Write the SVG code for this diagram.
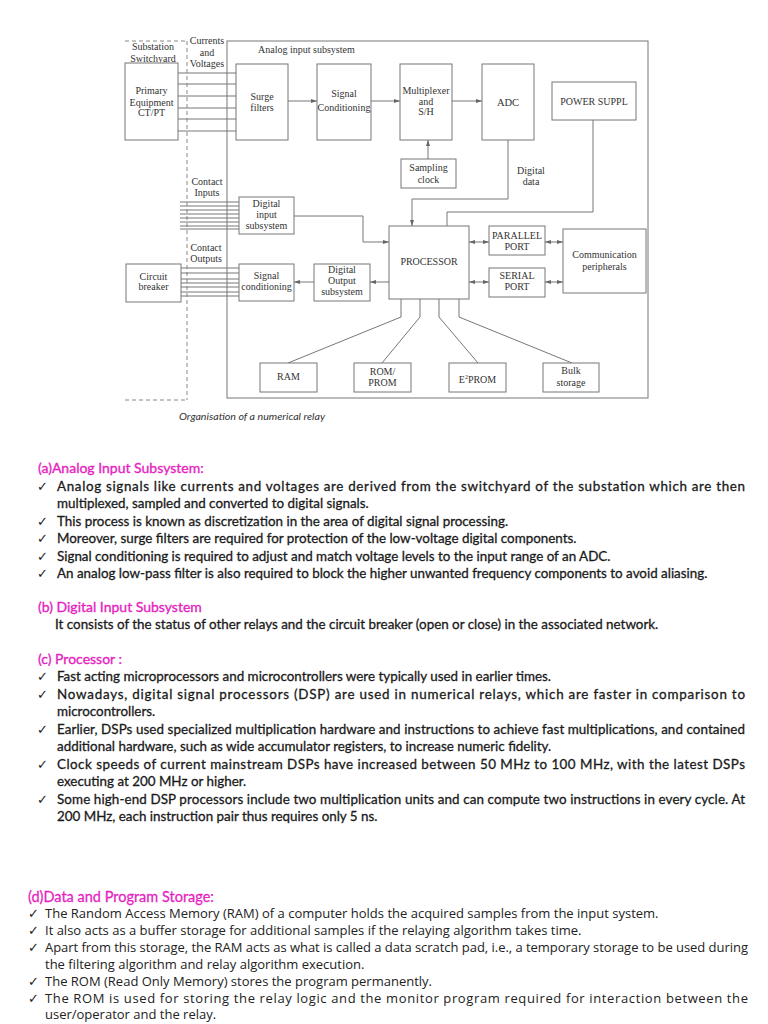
<svg xmlns="http://www.w3.org/2000/svg" width="768" height="1024" viewBox="0 0 768 1024">
<defs>
<marker id="ah" viewBox="0 0 6 6" refX="6" refY="3" markerWidth="6" markerHeight="6" orient="auto-start-reverse" markerUnits="userSpaceOnUse">
<path d="M0,1 L6,3 L0,5 z" fill="#666"/>
</marker>
<style>
.bx{fill:#fff;stroke:#777;stroke-width:1}
.ln{fill:none;stroke:#777;stroke-width:1}
.ds{fill:none;stroke:#888;stroke-width:1;stroke-dasharray:4,3}
.dt{font-family:"Liberation Serif",serif;font-size:10px;fill:#333;text-anchor:middle}
.dl{font-family:"Liberation Serif",serif;font-size:10px;fill:#333}
.cap{font-family:Lato,"Open Sans",sans-serif;font-style:italic;font-size:10px;fill:#333}
.hd{font-family:Lato,"Open Sans",sans-serif;font-size:14px;fill:#e61fc1;stroke:#e61fc1;stroke-width:0.35}
.bt{font-family:Lato,"Open Sans",sans-serif;font-size:13.4px;fill:#1a1a1a;stroke:#1a1a1a;stroke-width:0.3}
.ck{font-family:"DejaVu Sans",sans-serif;font-size:13px;fill:#222}
.hd2{font-family:Lato,"Open Sans",sans-serif;font-size:16px;fill:#e61fc1;stroke:#e61fc1;stroke-width:0.3}
.bt2{font-family:"Open Sans",Lato,sans-serif;font-size:13px;fill:#222}
</style>
</defs>
<rect width="768" height="1024" fill="#fff"/>

<g id="frames">
<rect x="227" y="41" width="421" height="357" class="ln"/>
<path d="M125 41 H187 M187 41 V400 M125 400 H187" class="ds"/>
</g>

<g id="connectors">
<path d="M178 73 H236 M178 84 H236 M178 96 H236 M178 108 H236 M178 119 H236 M178 131 H236" class="ln"/>
<path d="M180 202 H239 M180 206 H239 M180 210 H239 M180 214 H239 M180 218 H239 M180 222 H239 M180 226 H239 M180 229 H239" class="ln"/>
<path d="M181 268 H239 M181 273 H239 M181 279 H239 M181 283 H239 M181 287 H239 M181 292 H239 M181 296 H239" class="ln"/>
<path d="M288 101 H317" class="ln" marker-end="url(#ah)"/>
<path d="M371 101 H400" class="ln" marker-end="url(#ah)"/>
<path d="M452 101 H482" class="ln" marker-end="url(#ah)"/>
<path d="M428 159 V140" class="ln" marker-end="url(#ah)"/>
<path d="M508 140 V199 H412 V226" class="ln" marker-end="url(#ah)"/>
<path d="M593 120 V212 H447 V226" class="ln"/>
<path d="M294 216 H363 V242 H389" class="ln" marker-end="url(#ah)"/>
<path d="M389 282 H370" class="ln" marker-end="url(#ah)"/>
<path d="M314 282 H294" class="ln" marker-end="url(#ah)"/>
<path d="M469 242 H489" class="ln" marker-start="url(#ah)" marker-end="url(#ah)"/>
<path d="M545 242 H563" class="ln" marker-start="url(#ah)" marker-end="url(#ah)"/>
<path d="M469 282 H489" class="ln" marker-start="url(#ah)" marker-end="url(#ah)"/>
<path d="M545 282 H563" class="ln" marker-start="url(#ah)" marker-end="url(#ah)"/>
<path d="M401 299 V317 L288 363 M420 299 V317 L382 363 M439 299 V317 L478 363 M459 299 V317 L572 363" class="ln"/>
</g>

<g id="labels">
<text class="dt" x="153" y="50">Substation</text>
<text class="dt" x="153" y="62">Switchyard</text>
<text class="dt" x="207" y="44">Currents</text>
<text class="dt" x="207" y="56">and</text>
<text class="dt" x="207" y="67">Voltages</text>
<text class="dl" x="258" y="53">Analog input subsystem</text>
<text class="dt" x="531" y="174">Digital</text>
<text class="dt" x="531" y="185">data</text>
<text class="dt" x="207" y="185">Contact</text>
<text class="dt" x="207" y="196">Inputs</text>
<text class="dt" x="206" y="251">Contact</text>
<text class="dt" x="206" y="262">Outputs</text>
<text class="cap" x="179" y="420" textLength="146" lengthAdjust="spacingAndGlyphs">Organisation of a numerical relay</text>
</g>

<g id="primary"><rect x="125" y="63" width="53" height="77" class="bx"/>
<text class="dt" x="151.5" y="94">Primary</text><text class="dt" x="151.5" y="106">Equipment</text><text class="dt" x="151.5" y="116">CT/PT</text></g>
<g id="surge"><rect x="236" y="64" width="52" height="76" class="bx"/>
<text class="dt" x="262" y="100">Surge</text><text class="dt" x="262" y="111">filters</text></g>
<g id="signalcond1"><rect x="317" y="64" width="54" height="76" class="bx"/>
<text class="dt" x="344" y="97">Signal</text><text class="dt" x="344" y="111">Conditioning</text></g>
<g id="mux"><rect x="400" y="64" width="52" height="76" class="bx"/>
<text class="dt" x="426" y="94">Multiplexer</text><text class="dt" x="426" y="105">and</text><text class="dt" x="426" y="115">S/H</text></g>
<g id="adc"><rect x="482" y="64" width="52" height="76" class="bx"/>
<text class="dt" x="508" y="106" style="font-size:10.5px">ADC</text></g>
<g id="power"><rect x="552" y="82" width="84" height="38" class="bx"/>
<text class="dt" x="594" y="105">POWER SUPPL</text></g>
<g id="clock"><rect x="401" y="159" width="55" height="29" class="bx"/>
<text class="dt" x="428.5" y="171">Sampling</text><text class="dt" x="428.5" y="183">clock</text></g>
<g id="digin"><rect x="239" y="197" width="55" height="37" class="bx"/>
<text class="dt" x="266.5" y="207">Digital</text><text class="dt" x="266.5" y="218">input</text><text class="dt" x="266.5" y="229">subsystem</text></g>
<g id="processor"><rect x="389" y="226" width="80" height="73" class="bx"/>
<text class="dt" x="429" y="265">PROCESSOR</text></g>
<g id="parallel"><rect x="489" y="226" width="56" height="29" class="bx"/>
<text class="dt" x="517" y="239">PARALLEL</text><text class="dt" x="517" y="250">PORT</text></g>
<g id="serial"><rect x="489" y="268" width="56" height="29" class="bx"/>
<text class="dt" x="517" y="279">SERIAL</text><text class="dt" x="517" y="290">PORT</text></g>
<g id="comm"><rect x="563" y="229" width="83" height="64" class="bx"/>
<text class="dt" x="604.5" y="258">Communication</text><text class="dt" x="604.5" y="270">peripherals</text></g>
<g id="breaker"><rect x="126" y="264" width="55" height="38" class="bx"/>
<text class="dt" x="153.5" y="280">Circuit</text><text class="dt" x="153.5" y="290">breaker</text></g>
<g id="signalcond2"><rect x="239" y="264" width="55" height="37" class="bx"/>
<text class="dt" x="266.5" y="279">Signal</text><text class="dt" x="266.5" y="290">conditioning</text></g>
<g id="digout"><rect x="314" y="264" width="56" height="37" class="bx"/>
<text class="dt" x="342" y="273">Digital</text><text class="dt" x="342" y="284">Output</text><text class="dt" x="342" y="295">subsystem</text></g>
<g id="ram"><rect x="260" y="363" width="57" height="29" class="bx"/>
<text class="dt" x="288.5" y="380">RAM</text></g>
<g id="rom"><rect x="354" y="363" width="57" height="29" class="bx"/>
<text class="dt" x="382.5" y="375">ROM/</text><text class="dt" x="382.5" y="386">PROM</text></g>
<g id="eeprom"><rect x="449" y="363" width="57" height="29" class="bx"/>
<text class="dt" x="477.5" y="383">E<tspan dy="-4" style="font-size:6px">2</tspan><tspan dy="4">PROM</tspan></text></g>
<g id="bulk"><rect x="543" y="363" width="56" height="29" class="bx"/>
<text class="dt" x="571" y="374">Bulk</text><text class="dt" x="571" y="386">storage</text></g>

<g id="text-a">
<text class="hd" x="38" y="473">(a)Analog Input Subsystem:</text>
<text class="ck" x="37" y="491">✓</text>
<text class="bt" x="57" y="491" textLength="688" lengthAdjust="spacing">Analog signals like currents and voltages are derived from the switchyard of the substation which are then</text>
<text class="bt" x="57" y="508">multiplexed, sampled and converted to digital signals.</text>
<text class="ck" x="37" y="526">✓</text>
<text class="bt" x="57" y="526">This process is known as discretization in the area of digital signal processing.</text>
<text class="ck" x="37" y="543">✓</text>
<text class="bt" x="57" y="543">Moreover, surge filters are required for protection of the low-voltage digital components.</text>
<text class="ck" x="37" y="561">✓</text>
<text class="bt" x="57" y="561">Signal conditioning is required to adjust and match voltage levels to the input range of an ADC.</text>
<text class="ck" x="37" y="578">✓</text>
<text class="bt" x="57" y="578">An analog low-pass filter is also required to block the higher unwanted frequency components to avoid aliasing.</text>
</g>
<g id="text-b">
<text class="hd" x="38" y="612">(b) Digital Input Subsystem</text>
<text class="bt" x="55" y="629">It consists of the status of other relays and the circuit breaker (open or close) in the associated network.</text>
</g>
<g id="text-c">
<text class="hd" x="38" y="664">(c) Processor :</text>
<text class="ck" x="37" y="681">✓</text>
<text class="bt" x="57" y="681">Fast acting microprocessors and microcontrollers were typically used in earlier times.</text>
<text class="ck" x="37" y="699">✓</text>
<text class="bt" x="57" y="699" textLength="688" lengthAdjust="spacing">Nowadays, digital signal processors (DSP) are used in numerical relays, which are faster in comparison to</text>
<text class="bt" x="57" y="716">microcontrollers.</text>
<text class="ck" x="37" y="734">✓</text>
<text class="bt" x="57" y="734" textLength="688" lengthAdjust="spacing">Earlier, DSPs used specialized multiplication hardware and instructions to achieve fast multiplications, and contained</text>
<text class="bt" x="57" y="751">additional hardware, such as wide accumulator registers, to increase numeric fidelity.</text>
<text class="ck" x="37" y="769">✓</text>
<text class="bt" x="57" y="769" textLength="688" lengthAdjust="spacing">Clock speeds of current mainstream DSPs have increased between 50 MHz to 100 MHz, with the latest DSPs</text>
<text class="bt" x="57" y="786">executing at 200 MHz or higher.</text>
<text class="ck" x="37" y="804">✓</text>
<text class="bt" x="57" y="804" textLength="688" lengthAdjust="spacing">Some high-end DSP processors include two multiplication units and can compute two instructions in every cycle. At</text>
<text class="bt" x="57" y="821">200 MHz, each instruction pair thus requires only 5 ns.</text>
</g>
<g id="text-d">
<text class="hd2" x="28" y="902" textLength="186" lengthAdjust="spacingAndGlyphs">(d)Data and Program Storage:</text>
<text class="ck" x="28" y="918">✓</text>
<text class="bt2" x="45" y="918">The Random Access Memory (RAM) of a computer holds the acquired samples from the input system.</text>
<text class="ck" x="28" y="935">✓</text>
<text class="bt2" x="45" y="935">It also acts as a buffer storage for additional samples if the relaying algorithm takes time.</text>
<text class="ck" x="28" y="952">✓</text>
<text class="bt2" x="45" y="952" textLength="703" lengthAdjust="spacing">Apart from this storage, the RAM acts as what is called a data scratch pad, i.e., a temporary storage to be used during</text>
<text class="bt2" x="45" y="969">the filtering algorithm and relay algorithm execution.</text>
<text class="ck" x="28" y="986">✓</text>
<text class="bt2" x="45" y="986">The ROM (Read Only Memory) stores the program permanently.</text>
<text class="ck" x="28" y="1003">✓</text>
<text class="bt2" x="45" y="1003" textLength="703" lengthAdjust="spacing">The ROM is used for storing the relay logic and the monitor program required for interaction between the</text>
<text class="bt2" x="45" y="1019">user/operator and the relay.</text>
<text class="ck" x="28" y="1035">✓</text>
<text class="bt2" x="45" y="1035" textLength="703" lengthAdjust="spacing">The EEPROM (Electrically Erasable Programmable Read Only Memory) is needed for storing the parameters which and</text>
</g>
</svg>
